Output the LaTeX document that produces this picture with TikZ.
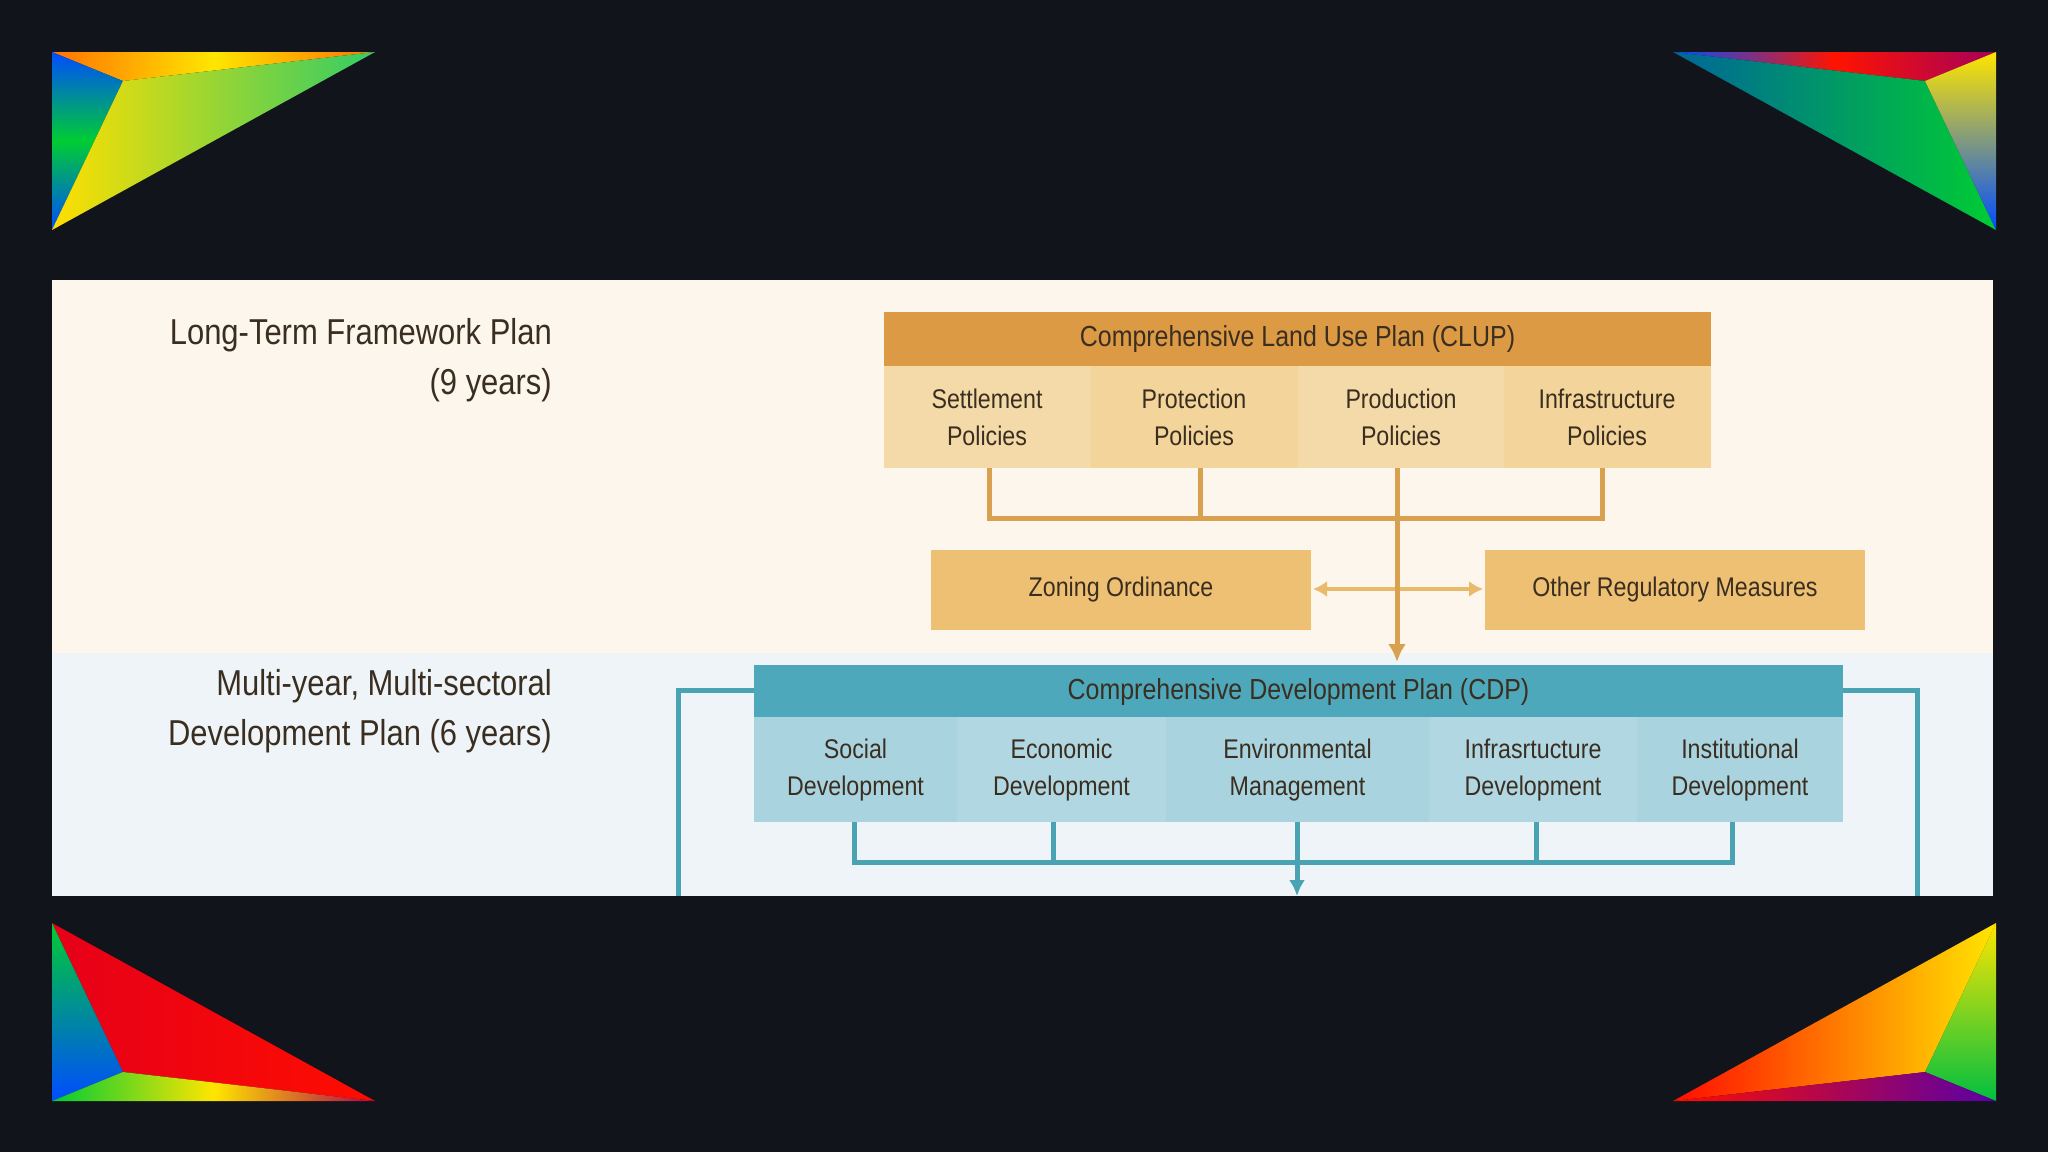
\documentclass[tikz,border=0pt]{standalone}
\usepackage{fontspec}
\setmainfont{Liberation Sans}[FakeStretch=0.86]
\usetikzlibrary{arrows.meta}
\definecolor{bg}{HTML}{11141B}
\definecolor{cream}{HTML}{FCF6EC}
\definecolor{pale}{HTML}{EEF4F8}
\definecolor{clup}{HTML}{DC9A45}
\definecolor{pol}{HTML}{F3D59C}
\definecolor{zon}{HTML}{EEC073}
\definecolor{oline}{HTML}{D9A050}
\definecolor{cdp}{HTML}{4EA8BC}
\definecolor{dev}{HTML}{A9D3DF}
\definecolor{tline}{HTML}{4AA3B3}
\definecolor{txt}{HTML}{3A2E20}
\tikzset{
 cell/.style={inner sep=0pt, align=center, text=txt, font=\fontsize{27}{37}\selectfont},
 head/.style={inner sep=0pt, text=txt, font=\fontsize{29}{34}\selectfont},
 side/.style={inner sep=0pt, align=right, text=txt, font=\fontsize{36}{50}\selectfont, anchor=north east},
 oln/.style={draw=oline, line width=5pt},
 tln/.style={draw=tline, line width=5pt},
}
\begin{document}
\begin{tikzpicture}[x=1pt,y=-1pt]
\fill[bg] (0,0) rectangle (2048,1152);
\useasboundingbox (0,0) rectangle (2048,1152);
% corner triangles
\shade[left color=orange!90!red, right color=orange!90!red, middle color=yellow!80!orange] (52,52)--(375,52)--(123,81)--cycle;
\shade[top color=blue!70!cyan, bottom color=blue!70!cyan, middle color=green!60!teal] (52,52)--(123,81)--(52,230)--cycle;
\shade[left color=yellow!75!orange, right color=green!50!teal!80] (123,81)--(375,52)--(52,230)--cycle;
\shade[left color=blue!70!cyan, right color=violet!70!red, middle color=red!85!orange] (1673,52)--(1996,52)--(1925,81)--cycle;
\shade[left color=teal!80!blue, right color=green!60!teal] (1673,52)--(1925,81)--(1996,230)--cycle;
\shade[top color=yellow!80!orange, bottom color=blue!70!cyan] (1925,81)--(1996,52)--(1996,230)--cycle;
\shade[left color=red!80!violet, right color=red!90!orange] (52,923)--(375,1101)--(123,1072)--cycle;
\shade[top color=green!60!teal, bottom color=blue!70!cyan] (52,923)--(123,1072)--(52,1101)--cycle;
\shade[left color=green!60!teal, right color=violet!60!red, middle color=yellow!80!orange] (52,1101)--(123,1072)--(375,1101)--cycle;
\shade[left color=red!90!orange, right color=yellow!80!orange] (1996,923)--(1673,1101)--(1925,1072)--cycle;
\shade[top color=yellow!80!orange, bottom color=green!50!teal] (1996,923)--(1925,1072)--(1996,1101)--cycle;
\shade[left color=red!90!orange, right color=violet!70!blue] (1673,1101)--(1925,1072)--(1996,1101)--cycle;
% panel
\fill[cream] (52,280) rectangle (1993,653);
\fill[pale] (52,653) rectangle (1993,896);
% side texts
\node[side] (lt) at (552,318) {Long-Term Framework Plan\\(9 years)};
\node[side] (my) at (552,669) {Multi-year, Multi-sectoral\\Development Plan (6 years)};
% CLUP
\fill[clup] (884,312) rectangle (1711,366);
\node[head] (clup) at (1297.5,339) {Comprehensive Land Use Plan (CLUP)};
\fill[pol] (884,366) rectangle (1711,468);
\fill[white,opacity=0.12] (884,366) rectangle (1091,468);
\fill[white,opacity=0.12] (1298,366) rectangle (1504,468);
\node[cell] (p1) at (987,417) {Settlement\\Policies};
\node[cell] (p2) at (1194,417) {Protection\\Policies};
\node[cell] (p3) at (1401,417) {Production\\Policies};
\node[cell] (p4) at (1607,417) {Infrastructure\\Policies};
\coordinate (c1) at (989,468); \coordinate (c2) at (1200,468);
\coordinate (c3) at (1397,468); \coordinate (c4) at (1602,468);
\draw[oln] (c1) -- (989,518) -- (1602,518) -- (c4);
\draw[oln] (c2) -- (1200,518);
% zoning
\fill[zon] (931,550) rectangle (1311,630);
\node[cell] (zo) at (1121,590) {Zoning Ordinance};
\fill[zon] (1485,550) rectangle (1865,630);
\node[cell] (orm) at (1675,590) {Other Regulatory Measures};
\draw[draw=zon!80!oline, line width=4pt, {Latex[length=14pt,width=16pt]}-{Latex[length=14pt,width=16pt]}] (1313,589) -- (1483,589);
% CDP
\fill[cdp] (754,665) rectangle (1843,717);
\node[head] (cdp) at (1298.5,692) {Comprehensive Development Plan (CDP)};
\fill[dev] (754,717) rectangle (1843,822);
\fill[white,opacity=0.1] (957,717) rectangle (1166,822);
\fill[white,opacity=0.1] (1429,717) rectangle (1637,822);
\node[cell] (d1) at (855.5,770) {Social\\Development};
\node[cell] (d2) at (1061.5,770) {Economic\\Development};
\node[cell] (d3) at (1297.5,770) {Environmental\\Management};
\node[cell] (d4) at (1533,770) {Infrasrtucture\\Development};
\node[cell] (d5) at (1740,770) {Institutional\\Development};
\draw[oln, -{Latex[length=18pt,width=18pt]}] (c3) -- (1397,662);
\draw[tln] (854,822) -- (854,862) -- (1732,862) -- (1732,822);
\draw[tln] (1053,822) -- (1053,862);
\draw[tln] (1536,822) -- (1536,862);
\coordinate (bot) at (1297,896);
\draw[tln, -{Latex[length=16pt,width=16pt]}] (1297,822) -- (bot);
\draw[tln] (754,690) -- (678,690) -- (678,896);
\draw[tln] (1843,690) -- (1917,690) -- (1917,896);
\end{tikzpicture}
\end{document}
